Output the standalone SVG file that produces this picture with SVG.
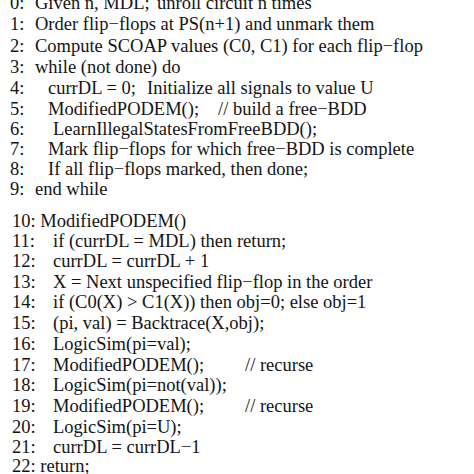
<svg xmlns="http://www.w3.org/2000/svg" width="474" height="474" viewBox="0 0 474 474">
<style>
text{font-family:"Liberation Serif","Times New Roman",serif;font-size:18.5px;fill:#141414}
</style>
<rect width="474" height="474" fill="#ffffff"/>
<g id="main">
<text x="10" y="8.5">0:</text><text x="35" y="8.5">Given n, MDL;</text><text x="157" y="8.5">unroll circuit n times</text>
<text x="10" y="29.5">1:</text><text x="35" y="29.5">Order flip−flops at PS(n+1) and unmark them</text>
<text x="10" y="51.5">2:</text><text x="35" y="51.5">Compute SCOAP values (C0, C1) for each flip−flop</text>
<text x="10" y="72.5">3:</text><text x="35" y="72.5">while (not done) do</text>
<text x="10" y="94">4:</text><text x="48" y="94">currDL = 0;</text><text x="147" y="94">Initialize all signals to value U</text>
<text x="10" y="115">5:</text><text x="48" y="115">ModifiedPODEM();</text><text x="218" y="115">// build a free−BDD</text>
<text x="10" y="134.5">6:</text><text x="53" y="134.5">LearnIllegalStatesFromFreeBDD();</text>
<text x="10" y="155">7:</text><text x="48" y="155">Mark flip−flops for which free−BDD is complete</text>
<text x="10" y="175">8:</text><text x="48" y="175">If all flip−flops marked, then done;</text>
<text x="10" y="194.5">9:</text><text x="35" y="194.5">end while</text>
</g>
<g id="podem">
<text x="12" y="227">10: ModifiedPODEM()</text>
<text x="12" y="247">11:</text><text x="53" y="247">if (currDL = MDL) then return;</text>
<text x="12" y="267">12:</text><text x="53" y="267">currDL = currDL + 1</text>
<text x="12" y="287.5">13:</text><text x="53" y="287.5">X = Next unspecified flip−flop in the order</text>
<text x="12" y="308">14:</text><text x="53" y="308">if (C0(X) &gt; C1(X)) then obj=0; else obj=1</text>
<text x="12" y="328.5">15:</text><text x="53" y="328.5">(pi, val) = Backtrace(X,obj);</text>
<text x="12" y="350">16:</text><text x="53" y="350">LogicSim(pi=val);</text>
<text x="12" y="370.5">17:</text><text x="53" y="370.5">ModifiedPODEM();</text><text x="245" y="370.5">// recurse</text>
<text x="12" y="391">18:</text><text x="53" y="391">LogicSim(pi=not(val));</text>
<text x="12" y="412">19:</text><text x="53" y="412">ModifiedPODEM();</text><text x="245" y="412">// recurse</text>
<text x="12" y="432.5">20:</text><text x="53" y="432.5">LogicSim(pi=U);</text>
<text x="12" y="453">21:</text><text x="53" y="453">currDL = currDL−1</text>
<text x="12" y="472">22: return;</text>
</g>
</svg>
